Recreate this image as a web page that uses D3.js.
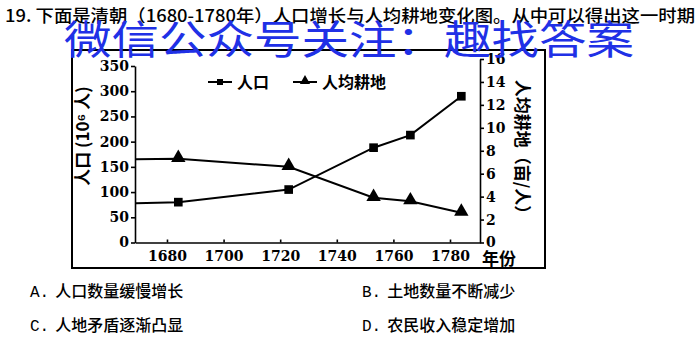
<!DOCTYPE html>
<html>
<head>
<meta charset="utf-8">
<script src="https://cdn.jsdelivr.net/npm/d3@7"></script>
<style>
  body { margin: 0; background: #fff; }
  svg { display: block; }
</style>
</head>
<body>
<svg width="700" height="338"></svg>
<script>
// data
const years = [1669, 1684, 1723, 1753, 1766, 1784];
const population = [78, 80, 105, 188, 213, 290];        // 10^6 people
const landPerCapita = [7.25, 7.3, 6.6, 3.9, 3.6, 2.6];  // mu per person
const hasMarker = [false, true, true, true, true, true];
const xTicks = [1680, 1700, 1720, 1740, 1760, 1780];
const leftTicks = [0, 50, 100, 150, 200, 250, 300, 350];
const rightTicks = [0, 2, 4, 6, 8, 10, 12, 14, 16];
const seriesNames = ["人口", "人均耕地"];
const title = "19. 下面是清朝（1680-1780年）人口增长与人均耕地变化图。从中可以得出这一时期";
const options = ["A. 人口数量缓慢增长", "B. 土地数量不断减少", "C. 人地矛盾逐渐凸显", "D. 农民收入稳定增加"];
const watermark = "微信公众号关注：趣找答案";

const svg = d3.select("svg");
const cjk = "'Noto Sans CJK SC', sans-serif";
const num = "'DejaVu Serif', serif";

// question title
svg.append("text")
  .attr("x", 5).attr("y", 22)
  .attr("textLength", 690).attr("lengthAdjust", "spacingAndGlyphs")
  .style("font-family", cjk).style("font-size", "17px").style("font-weight", 500)
  .text(title);

// frame around the chart
svg.append("rect")
  .attr("x", 72).attr("y", 50).attr("width", 473).attr("height", 218)
  .attr("fill", "none").attr("stroke", "#000").attr("stroke-width", 2);

// scales
const x = d3.scaleLinear().domain([1668.7, 1790.6]).range([135, 480]);
const yL = d3.scaleLinear().domain([0, 350]).range([242.5, 66]);
const yR = d3.scaleLinear().domain([0, 16]).range([242.5, 59]);

function styleAxis(g) {
  g.selectAll("path, line").attr("stroke", "#000").attr("stroke-width", 1.6);
  g.selectAll("text").style("font-family", num).style("font-size", "14px")
    .style("font-weight", "bold").attr("fill", "#000");
}

svg.append("g")
  .attr("transform", "translate(135,0)")
  .call(d3.axisLeft(yL).tickValues(leftTicks).tickSizeInner(4).tickSizeOuter(0).tickPadding(2))
  .call(styleAxis);

svg.append("g")
  .attr("transform", "translate(480,0)")
  .call(d3.axisRight(yR).tickValues(rightTicks).tickSizeInner(4).tickSizeOuter(0).tickPadding(2))
  .call(styleAxis);

svg.append("g")
  .attr("transform", "translate(0,242.5)")
  .call(d3.axisBottom(x).tickValues(xTicks).tickFormat(d3.format("d"))
        .tickSizeInner(-3).tickSizeOuter(0).tickPadding(9))
  .call(styleAxis);

// axis titles
svg.append("text")
  .attr("transform", "translate(89,136) rotate(-90)")
  .attr("text-anchor", "middle")
  .style("font-family", cjk).style("font-size", "17px").style("font-weight", "bold")
  .text("人口 (10⁶ 人)");

svg.append("text")
  .attr("transform", "translate(516,151) rotate(90)")
  .attr("text-anchor", "middle")
  .style("font-family", cjk).style("font-size", "17px").style("font-weight", "bold")
  .text("人均耕地（亩/人）");

svg.append("text")
  .attr("x", 482).attr("y", 265)
  .style("font-family", cjk).style("font-size", "17px").style("font-weight", "bold")
  .text("年份");

// series lines
const popLine = d3.line().x((d, i) => x(years[i])).y(d => yL(d));
const landLine = d3.line().x((d, i) => x(years[i])).y(d => yR(d));

svg.append("path").datum(population).attr("d", popLine)
  .attr("fill", "none").attr("stroke", "#000").attr("stroke-width", 2);
svg.append("path").datum(landPerCapita).attr("d", landLine)
  .attr("fill", "none").attr("stroke", "#000").attr("stroke-width", 2);

const square = d3.symbol().type(d3.symbolSquare).size(75);
const triangle = d3.symbol().type(d3.symbolTriangle).size(90);

svg.selectAll(".pop").data(population).enter()
  .filter((d, i) => hasMarker[i])
  .append("path").attr("class", "pop")
  .attr("d", square)
  .attr("transform", (d, i) => `translate(${x(years[population.indexOf(d)])},${yL(d)})`)
  .attr("fill", "#000");

svg.selectAll(".land").data(landPerCapita).enter()
  .filter((d, i) => hasMarker[i])
  .append("path").attr("class", "land")
  .attr("d", triangle)
  .attr("transform", d => `translate(${x(years[landPerCapita.indexOf(d)])},${yR(d) - 1})`)
  .attr("fill", "#000");

// legend
const legend = svg.append("g").style("font-family", cjk).style("font-size", "16px").style("font-weight", "bold");
const legendX = [208, 293];
const legendSym = [square, triangle];
seriesNames.forEach((name, i) => {
  const g = legend.append("g").attr("transform", `translate(${legendX[i]},82)`);
  g.append("line").attr("x1", 0).attr("x2", 24).attr("stroke", "#000").attr("stroke-width", 2);
  g.append("path").attr("d", legendSym[i].size(i ? 45 : 36)).attr("transform", `translate(12,${i ? -1 : 0})`);
  g.append("text").attr("x", 29).attr("y", 6).text(name);
});

// answer options
const optX = [30, 362, 30, 362];
const optY = [297, 297, 331, 331];
options.forEach((t, i) => {
  const g = svg.append("text").attr("x", optX[i]).attr("y", optY[i])
    .style("font-size", "16px");
  g.append("tspan").style("font-family", "'Liberation Mono', monospace").text(t.slice(0, 2));
  g.append("tspan").attr("dx", 6).style("font-family", cjk).style("font-weight", 500).text(t.slice(3));
});

// watermark over the title
svg.append("text")
  .attr("x", 64).attr("y", 54)
  .attr("textLength", 570).attr("lengthAdjust", "spacingAndGlyphs")
  .style("font-family", cjk).style("font-size", "40px").style("font-weight", 400)
  .attr("fill", "#2030e6")
  .text(watermark);
</script>
</body>
</html>
